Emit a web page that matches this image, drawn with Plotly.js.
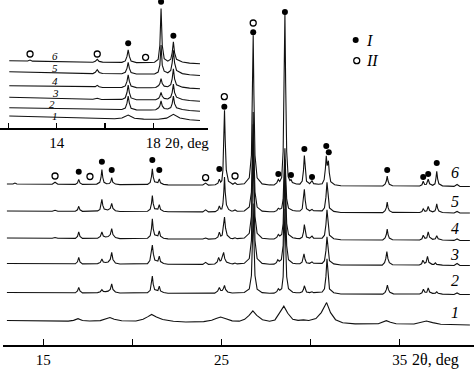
<!DOCTYPE html>
<html><head><meta charset="utf-8">
<script src="https://cdn.plot.ly/plotly-3.0.1.min.js"></script>
<style>html,body{margin:0;padding:0;background:#fff}#c{width:474px;height:378px}</style>
</head><body><div id="c"></div>
<script>
// ---------- DATA (intensity above each pattern's own baseline, arbitrary units) ----------
// main panel, 2θ (deg) vs intensity; patterns 1..6
const main1 = [[12.96,0],[16.4,0],[16.7,0.8],[16.95,2.5],[17.2,0.8],[17.6,0.3],[18.2,0.8],[18.5,2.2],[18.74,4],[18.98,2.2],[19.4,0.8],[20.2,0.8],[20.6,2.5],[20.85,5],[21.08,7.5],[21.35,5],[21.7,2.5],[22.3,0.8],[23.0,0.3],[24.0,0.8],[24.45,2.2],[24.7,4],[24.95,5.5],[25.25,3.8],[25.6,1.8],[26.0,1.6],[26.3,3.5],[26.55,7.5],[26.76,12],[26.98,7.5],[27.3,3.2],[27.7,1.8],[28.0,3.2],[28.25,10],[28.5,17],[28.72,10],[29.0,4],[29.3,3],[29.6,3.5],[29.9,3],[30.3,5],[30.6,11],[30.9,21],[31.12,11],[31.4,4],[31.8,1],[32.5,0],[33.8,0.4],[34.05,2],[34.25,3.5],[34.48,2],[34.8,0.5],[35.8,0.4],[36.15,2],[36.5,3.5],[36.85,2],[37.3,0.4],[38.94,0]];
const main2 = [[12.96,0],[16.8,0],[16.92,1.8],[16.99,5.5],[17.06,1.8],[17.2,0],[18.05,0.3],[18.2,1.2],[18.29,3.3],[18.37,1.5],[18.5,1.3],[18.64,1.8],[18.76,3.5],[18.84,9],[18.91,3.5],[19.05,1],[19.3,0],[20.85,0.5],[21.0,2.8],[21.07,9],[21.12,17],[21.17,9],[21.25,3.5],[21.43,2.6],[21.51,7],[21.58,2.3],[21.75,0.6],[22.0,0],[24.62,0.3],[24.78,2.2],[24.88,6],[24.96,3],[25.04,3],[25.11,5],[25.17,8],[25.23,4],[25.35,1.5],[25.6,0.5],[26.28,1],[26.56,4.5],[26.68,18],[26.74,54],[26.78,90],[26.82,54],[26.88,18],[27.0,4.5],[27.28,1],[27.7,0.4],[27.95,0.5],[28.1,2],[28.19,5],[28.27,3.5],[28.38,5],[28.46,17],[28.52,51],[28.56,85],[28.6,51],[28.66,17],[28.76,5],[28.9,2.5],[29.0,1.5],[29.2,1],[29.4,1],[29.53,2],[29.6,4.5],[29.65,8],[29.7,4],[29.77,1.8],[29.95,1.2],[30.08,2],[30.17,1.2],[30.45,1.2],[30.65,1.8],[30.78,5],[30.86,17],[30.92,35],[30.98,17],[31.06,5],[31.3,1.2],[31.7,0],[34.05,0],[34.18,1.8],[34.25,4.5],[34.31,9],[34.37,4.5],[34.45,1.8],[34.65,0.3],[36.12,0.3],[36.25,1.5],[36.33,5],[36.42,2],[36.52,2],[36.6,6.5],[36.68,2.3],[36.85,1],[37.0,1.2],[37.08,2.5],[37.16,1],[37.4,0.3],[37.7,0],[38.05,0],[38.22,1.5],[38.38,0],[38.94,0]];
const main3 = [[12.96,0],[15.5,0],[15.66,0.6],[15.82,0],[16.8,0],[16.92,2],[16.99,6.5],[17.06,2],[17.2,0],[18.05,0.3],[18.2,1.5],[18.29,5],[18.37,2],[18.5,1.5],[18.64,2],[18.76,4.5],[18.84,11.5],[18.91,4.5],[19.05,1],[19.3,0],[20.85,0.5],[20.98,3.5],[21.06,12],[21.12,19],[21.18,10],[21.26,4],[21.43,3],[21.51,8],[21.58,2.6],[21.75,0.6],[22.0,0],[23.95,0],[24.11,2],[24.27,0],[24.62,0.4],[24.76,2.5],[24.84,7],[24.92,3.5],[24.98,4],[25.06,8],[25.12,12],[25.18,6],[25.28,2.5],[25.5,1],[25.64,0.6],[25.76,1.5],[25.88,0.6],[26.28,1.2],[26.56,6],[26.68,24],[26.74,72],[26.78,120],[26.82,72],[26.88,24],[27.0,6],[27.28,1.2],[27.7,0.4],[27.95,0.5],[28.08,2],[28.16,5],[28.24,3.5],[28.36,5],[28.46,19],[28.52,57],[28.56,95],[28.6,57],[28.66,19],[28.76,5],[28.9,2.5],[29.0,1.5],[29.2,1],[29.4,1],[29.52,2.5],[29.58,6],[29.63,11],[29.69,5.5],[29.77,2],[29.95,1.5],[30.08,3],[30.17,1.5],[30.45,1.2],[30.65,1.5],[30.78,4.2],[30.86,14],[30.92,28],[30.98,14],[31.06,4.2],[31.3,1],[31.7,0],[34.02,0],[34.15,2.5],[34.22,6.5],[34.28,13.5],[34.34,6.5],[34.42,2.5],[34.6,0.4],[36.1,0.3],[36.23,1.5],[36.3,5],[36.4,2],[36.48,3],[36.56,9],[36.64,3],[36.82,1],[36.92,1],[37.0,2.5],[37.08,1],[37.4,0.3],[37.7,0],[38.05,0],[38.22,2],[38.38,0],[38.94,0]];
const main4 = [[12.96,0],[15.5,0],[15.66,0.8],[15.82,0],[16.8,0],[16.92,2],[16.99,6.5],[17.06,2],[17.2,0],[18.05,0.3],[18.2,2],[18.29,6.5],[18.37,2.5],[18.5,1.5],[18.64,2],[18.76,4],[18.84,10],[18.91,4],[19.05,1],[19.3,0],[20.85,0.5],[21.0,3],[21.07,10],[21.12,20],[21.17,10],[21.25,4],[21.43,3],[21.51,8],[21.58,2.6],[21.75,0.6],[22.0,0],[23.95,0],[24.11,1],[24.27,0],[24.65,0.3],[24.8,2.3],[24.88,7],[24.96,3],[25.04,4],[25.11,12],[25.17,22],[25.23,11],[25.32,4],[25.5,1],[25.64,0.6],[25.76,1.5],[25.88,0.6],[26.28,1.2],[26.56,6],[26.68,23],[26.74,69],[26.78,115],[26.82,69],[26.88,23],[27.0,6],[27.28,1.2],[27.7,0.4],[27.95,0.5],[28.1,2],[28.19,5],[28.27,3.5],[28.38,5],[28.46,16],[28.52,48],[28.56,80],[28.6,48],[28.66,16],[28.76,5],[28.9,3],[29.0,1.8],[29.2,1.2],[29.4,1],[29.53,2.5],[29.6,7.5],[29.65,15],[29.7,7.5],[29.77,2.5],[29.95,1.5],[30.08,3.5],[30.17,1.5],[30.45,1.2],[30.65,1.5],[30.78,4.5],[30.86,15],[30.92,30],[30.98,15],[31.06,4.5],[31.3,1],[31.7,0],[34.05,0],[34.18,2],[34.25,5.5],[34.3,11],[34.35,5.5],[34.42,2],[34.6,0.3],[36.12,0.3],[36.25,1.5],[36.32,5],[36.42,2],[36.52,2.5],[36.6,8.5],[36.68,3],[36.85,1],[37.0,1.5],[37.08,4.5],[37.16,1.5],[37.4,0.3],[37.7,0],[38.05,0],[38.22,1.5],[38.38,0],[38.94,0]];
const main5 = [[12.96,0],[15.5,0],[15.66,1],[15.82,0],[16.8,0],[16.92,1.5],[16.99,5],[17.06,1.5],[17.2,0],[18.05,0.5],[18.18,2],[18.24,6],[18.29,12],[18.34,6],[18.42,2.5],[18.62,1.5],[18.76,3],[18.84,8],[18.91,3],[19.05,0.8],[19.3,0],[20.85,0.4],[21.0,2.4],[21.07,8],[21.12,16],[21.17,8],[21.25,3],[21.43,2.5],[21.51,7],[21.58,2.3],[21.75,0.5],[22.0,0],[23.95,0],[24.11,2],[24.27,0],[24.65,0.3],[24.8,2],[24.88,6],[24.95,3],[25.02,3],[25.08,8],[25.13,20],[25.17,35],[25.21,20],[25.28,7],[25.4,2.5],[25.55,1],[25.64,1],[25.76,2],[25.88,0.8],[26.28,1],[26.56,5],[26.68,20],[26.74,60],[26.78,100],[26.82,60],[26.88,20],[27.0,5],[27.28,1],[27.7,0.4],[27.95,0.4],[28.1,1.5],[28.19,4],[28.27,3],[28.38,4],[28.46,13],[28.52,38],[28.56,64],[28.6,38],[28.66,13],[28.76,4],[28.9,3],[29.0,1.8],[29.2,1.2],[29.4,1.2],[29.53,3.5],[29.6,12],[29.65,23],[29.7,12],[29.77,3.5],[29.95,1.5],[30.08,3],[30.17,1.5],[30.45,1.2],[30.65,1.5],[30.78,4.5],[30.86,15],[30.92,30],[30.98,15],[31.06,4.5],[31.3,1],[31.7,0],[34.05,0],[34.18,2],[34.25,5],[34.3,10.5],[34.35,5],[34.42,2],[34.6,0.3],[36.12,0.3],[36.25,1.3],[36.32,4],[36.42,1.5],[36.52,2],[36.6,6.5],[36.68,2.3],[36.85,1],[36.98,2],[37.03,4.5],[37.08,9],[37.13,4.5],[37.2,1.8],[37.4,0.4],[37.7,0],[38.05,0],[38.22,1.5],[38.38,0],[38.94,0]];
const main6 = [[12.96,0],[13.3,0],[13.41,1],[13.52,0],[15.5,0],[15.66,2],[15.82,0],[16.8,0],[16.92,1.5],[16.99,5],[17.06,1.5],[17.2,0],[18.0,0.4],[18.17,2.2],[18.24,7],[18.29,15],[18.34,7],[18.41,2.2],[18.55,0.8],[18.7,1],[18.78,2.5],[18.84,7],[18.9,2.5],[19.05,0.5],[19.3,0],[20.85,0.4],[21.0,2.4],[21.07,8],[21.12,16],[21.17,8],[21.25,3],[21.43,2.2],[21.51,6],[21.58,2],[21.75,0.5],[22.0,0],[23.95,0],[24.11,2],[24.27,0],[24.65,0.3],[24.8,2],[24.88,6],[24.95,3],[25.02,4.5],[25.08,15],[25.13,45],[25.17,75],[25.21,45],[25.27,15],[25.39,4],[25.55,1.5],[25.64,1],[25.76,2.5],[25.88,0.8],[26.28,1.5],[26.56,7.5],[26.68,30],[26.74,90],[26.78,150],[26.82,90],[26.88,30],[27.0,7.5],[27.28,1.5],[27.7,0.5],[27.95,0.5],[28.1,2.5],[28.19,6],[28.27,4],[28.38,8],[28.46,34],[28.52,103],[28.56,172],[28.6,103],[28.66,34],[28.74,9],[28.84,5],[28.9,6],[28.98,3],[29.2,1.5],[29.4,1.5],[29.53,4.5],[29.6,15],[29.65,30],[29.7,15],[29.77,4.5],[29.95,2],[30.08,5],[30.17,2],[30.45,1.5],[30.65,2],[30.76,6],[30.83,17],[30.88,30],[30.93,20],[30.97,22],[31.0,25],[31.05,13],[31.13,4],[31.35,1],[31.7,0],[34.05,0],[34.18,1.8],[34.25,5],[34.3,10],[34.35,5],[34.42,1.8],[34.6,0.3],[36.12,0.3],[36.25,1.5],[36.32,5],[36.4,1.8],[36.5,2],[36.6,7],[36.68,2.5],[36.85,1],[36.98,2.5],[37.03,7.5],[37.08,15],[37.13,7.5],[37.2,2.5],[37.4,0.5],[37.7,0],[38.05,0],[38.22,2],[38.38,0],[38.94,0]];

// inset panel (12–20°)
const ins1 = [[12.04,0],[16.4,0],[16.7,1],[16.96,4],[17.22,1],[17.6,0.4],[18.2,0.6],[18.55,2],[18.83,6],[19.1,2.5],[19.5,1],[19.93,0.5]];
const ins2 = [[12.04,0],[16.7,0.5],[16.84,2],[16.91,7],[16.96,14],[17.01,7],[17.08,2],[17.3,0.5],[17.9,0.6],[18.1,1],[18.22,3],[18.27,5],[18.32,10],[18.37,5],[18.45,2.5],[18.6,2],[18.72,3.5],[18.78,7.5],[18.83,15],[18.88,7.5],[18.96,3.5],[19.2,1.8],[19.5,1],[19.93,0.5]];
const ins3 = [[12.04,0],[15.5,0],[15.68,1],[15.86,0],[16.7,0.5],[16.84,2.2],[16.91,7.5],[16.96,15],[17.01,7.5],[17.08,2.2],[17.3,0.5],[17.9,0.6],[18.1,1],[18.22,2.5],[18.27,4.5],[18.32,8.5],[18.37,4.5],[18.45,2.5],[18.6,2],[18.72,4],[18.78,8.5],[18.83,17],[18.88,8.5],[18.96,4],[19.2,1.8],[19.5,1],[19.93,0.5]];
const ins4 = [[12.04,0],[15.5,0],[15.6,0.7],[15.68,2],[15.76,0.7],[15.9,0],[16.7,0.5],[16.84,2],[16.91,6.5],[16.96,13],[17.01,6.5],[17.08,2],[17.3,0.5],[17.9,0.6],[18.1,1],[18.22,3],[18.27,5],[18.32,10],[18.37,5],[18.45,2.5],[18.6,2],[18.72,4],[18.78,10],[18.83,20],[18.88,10],[18.96,4],[19.2,1.8],[19.5,1],[19.93,0.5]];
const ins5 = [[12.04,0],[12.8,0],[12.9,0.5],[13.0,0],[15.5,0],[15.6,1.3],[15.68,4],[15.76,1.3],[15.9,0.3],[16.7,0.5],[16.84,2],[16.91,6],[16.96,12],[17.01,6],[17.08,2],[17.3,0.5],[17.9,0.8],[18.05,1],[18.2,3],[18.27,10],[18.32,30],[18.37,10],[18.45,4],[18.6,2.5],[18.72,5],[18.78,12.5],[18.83,25],[18.88,12.5],[18.96,5],[19.2,2],[19.5,1],[19.93,0.5]];
const ins6 = [[12.04,0],[12.8,0],[12.9,1],[13.0,0],[15.5,0],[15.6,1],[15.68,3],[15.76,1],[15.9,0.3],[16.7,0.5],[16.84,2],[16.91,6.5],[16.96,13],[17.01,6.5],[17.08,2],[17.3,0.5],[17.9,0.8],[18.05,1.2],[18.2,4],[18.27,18],[18.32,55],[18.37,18],[18.45,5],[18.6,2.5],[18.72,4.5],[18.78,11],[18.83,22],[18.88,11],[18.96,4.5],[19.2,2],[19.5,1],[19.93,0.5]];

// phase markers (I = filled, II = open)
const phaseI_x  = [16.99,18.29,18.84,21.12,21.51,24.88,25.16,26.78,28.19,28.56,28.9,29.65,30.08,30.88,31.02,34.3,36.32,36.6,37.08];
const phaseI_y  = [173.3,183.3,175,185,175,176,238.3,312.7,171,333,170,196,168,199,192.7,175,168,171,182];
const phaseII_x = [15.66,17.62,24.11,25.16,25.76,26.78];
const phaseII_y = [169,168.5,167.3,248.3,169,322];
const insI_x  = [16.96,18.32,18.83];
const insI_y  = [84.7,126.3,92.3];
const insII_x = [12.9,15.68,17.68];
const insII_y = [74,74,70.7];

const curveNames = ['1','2','3','4','5','6'];
const mainTicks = [15,20,25,30,35];
const mainTickText = ['15','','25','','35'];
const insTicks = [12,14,16,18];
const insTickText = ['','14','','18'];
const axisTitle = '2θ, deg';

// ---------- LAYOUT CONSTANTS (pixel baselines for stacking) ----------
const PH = 345;            // main plot height in px (y axis unit = 1px)
const IH = 128;            // inset axis line position
const mainBase = [[320.5,325],[292.5,294.5],[263.5,265.5],[238,240.5],[211,213],[184,186.5]];
const insBase  = [[116,121],[107.7,111.7],[97.3,101.7],[85.7,89.3],[71.7,76],[60.7,64.3]];
const mainSpan = [12.96,38.94], insSpan = [12.04,19.93];

function stack(pts, base, span, H){
  const x = pts.map(p=>p[0]);
  const y = pts.map(p=>{
    const t=(p[0]-span[0])/(span[1]-span[0]);
    const b = base[0]+(base[1]-base[0])*t;
    return H - b + p[1];
  });
  return {x,y};
}
const lineStyle = {color:'#111', width:1.1};
const traces = [];
[main1,main2,main3,main4,main5,main6].forEach((d,i)=>{
  const s = stack(d, mainBase[i], mainSpan, PH);
  traces.push({type:'scatter',mode:'lines',x:s.x,y:s.y,line:lineStyle,xaxis:'x',yaxis:'y',hoverinfo:'skip'});
});
[ins1,ins2,ins3,ins4,ins5,ins6].forEach((d,i)=>{
  const s = stack(d, insBase[i], insSpan, IH);
  traces.push({type:'scatter',mode:'lines',x:s.x,y:s.y,line:lineStyle,xaxis:'x2',yaxis:'y2',hoverinfo:'skip'});
});
const filled = {symbol:'circle',size:6,color:'#000'};
const open = {symbol:'circle-open',size:6,color:'#000',line:{width:1.3,color:'#000'}};
traces.push({type:'scatter',mode:'markers',x:phaseI_x,y:phaseI_y,marker:filled,cliponaxis:false});
traces.push({type:'scatter',mode:'markers',x:phaseII_x,y:phaseII_y,marker:open,cliponaxis:false});
traces.push({type:'scatter',mode:'markers',x:insI_x,y:insI_y,marker:filled,xaxis:'x2',yaxis:'y2',cliponaxis:false});
traces.push({type:'scatter',mode:'markers',x:insII_x,y:insII_y,marker:open,xaxis:'x2',yaxis:'y2',cliponaxis:false});
// legend symbols
traces.push({type:'scatter',mode:'markers',x:[32.53],y:[305],marker:filled,cliponaxis:false});
traces.push({type:'scatter',mode:'markers',x:[32.59],y:[284.3],marker:open,cliponaxis:false});

const serif = 'Liberation Serif, Times New Roman, serif';
const axisCommon = {showline:true,linecolor:'#000',linewidth:1.5,ticks:'inside',ticklen:6,tickwidth:1.3,tickcolor:'#000',
  showgrid:false,zeroline:false,fixedrange:true,tickfont:{family:serif,size:15,color:'#000'}};

const mainLabelY = [32.3,64.3,91,116.7,143.3,173];
const insLabel = [[13.93,12.5],[13.81,24],[13.95,35],[13.95,47],[13.95,59.7],[13.95,72]];
const ann = [];
curveNames.forEach((n,i)=>{
  ann.push({xref:'x',yref:'y',x:38.1,y:mainLabelY[i],text:'<i>'+n+'</i>',showarrow:false,font:{family:serif,size:16,color:'#000'},xanchor:'center',yanchor:'middle'});
  ann.push({xref:'x2',yref:'y2',x:insLabel[i][0],y:insLabel[i][1],text:'<i>'+n+'</i>',showarrow:false,font:{family:serif,size:11,color:'#000'},xanchor:'center',yanchor:'middle'});
});
ann.push({xref:'x',yref:'paper',x:35.58,y:-(360-PH)/PH,text:axisTitle,showarrow:false,font:{family:serif,size:16,color:'#000'},xanchor:'left',yanchor:'middle'});
ann.push({xref:'x2',yref:'paper',x:18.41,y:(PH-143.3)/PH,text:axisTitle,showarrow:false,font:{family:serif,size:15,color:'#000'},xanchor:'left',yanchor:'middle'});
ann.push({xref:'x',yref:'y',x:33.0,y:305,text:'<i>I</i>',showarrow:false,font:{family:serif,size:16,color:'#000'},xanchor:'left',yanchor:'middle'});
ann.push({xref:'x',yref:'y',x:33.0,y:284.3,text:'<i>II</i>',showarrow:false,font:{family:serif,size:16,color:'#000'},xanchor:'left',yanchor:'middle'});

const layout = {
  width:474,height:378,margin:{l:0,r:0,t:0,b:33,pad:0},
  paper_bgcolor:'#fff',plot_bgcolor:'rgba(0,0,0,0)',showlegend:false,
  xaxis:Object.assign({},axisCommon,{domain:[3/474,1],range:[12.74,39.17],tickvals:mainTicks,ticktext:mainTickText,anchor:'y'}),
  yaxis:{domain:[0,1],range:[0,PH],visible:false,fixedrange:true},
  xaxis2:Object.assign({},axisCommon,{domain:[0,208/474],range:[11.657,20.262],tickvals:insTicks,ticktext:insTickText,anchor:'y2',ticklen:5,tickfont:{family:serif,size:15,color:'#000'}}),
  yaxis2:{domain:[(PH-IH)/PH,1],range:[0,IH],visible:false,fixedrange:true,anchor:'x2'},
  annotations:ann
};
Plotly.newPlot('c',traces,layout,{staticPlot:true,displayModeBar:false});
</script></body></html>
